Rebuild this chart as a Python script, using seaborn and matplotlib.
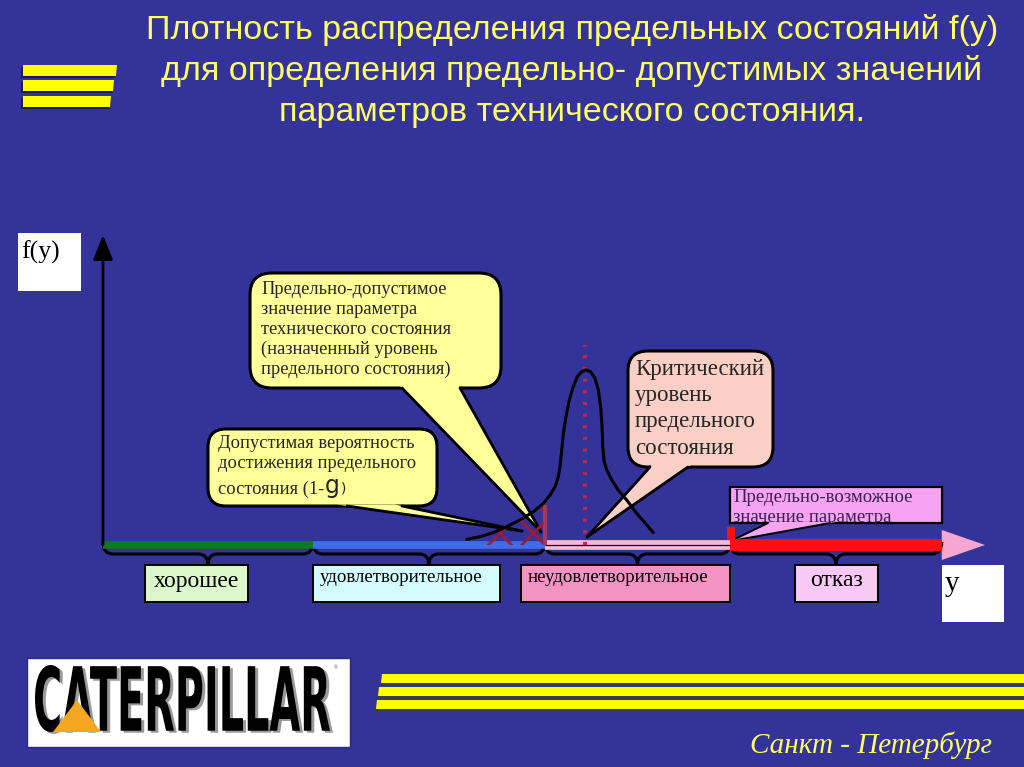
import numpy as np
import seaborn as sns
import matplotlib.pyplot as plt
import matplotlib.transforms as mtransforms
from matplotlib.patches import Polygon, Rectangle, FancyBboxPatch, PathPatch
from matplotlib.path import Path
from matplotlib.textpath import TextPath
from matplotlib.font_manager import FontProperties

# density of limit states f(y)
# (y in relative units 0..100 along the axis, f(y) in 0..1 of the axis height)
curve_x = [41.24, 42.74, 44.25, 45.77, 47.28, 48.79, 49.92, 50.68, 51.25, 51.62, 51.81,
           52.01, 52.19, 52.49, 52.87, 53.32, 53.78, 54.27, 54.76, 55.29, 55.78, 56.16,
           56.43, 56.58, 56.66, 56.80, 57.11, 57.68, 58.42, 59.38, 60.51, 61.64, 62.39]
curve_f = [0.018, 0.027, 0.040, 0.059, 0.081, 0.107, 0.134, 0.161, 0.188, 0.220, 0.253,
           0.306, 0.360, 0.414, 0.468, 0.511, 0.543, 0.559, 0.565, 0.559, 0.538, 0.500,
           0.446, 0.382, 0.317, 0.274, 0.242, 0.210, 0.177, 0.145, 0.102, 0.065, 0.040]

zone_names = ["хорошее", "удовлетворительное", "неудовлетворительное", "отказ"]
zone_edges = [0, 23.8, 50.1, 71.1, 95.1]
zone_colors = ["#0b7a22", "#3d6de8", "#f6b9da", "#ff1010"]
zone_widths = [5.5, 5.5, 7.0, 8.5]

limit_allowed = 50.1    # предельно-допустимое значение
limit_critical = 54.6   # критический уровень
limit_possible = 71.1   # предельно-возможное значение
critical_top = 0.645

title_lines = ["Плотность распределения предельных состояний f(y)",
               "для определения предельно- допустимых значений",
               "параметров технического состояния."]
note_allowed = ["Предельно-допустимое", "значение параметра", "технического состояния",
                "(назначенный уровень", "предельного состояния)"]
note_prob = ["Допустимая вероятность", "достижения предельного", "состояния (1-"]
note_critical = ["Критический", "уровень", "предельного", "состояния"]
note_possible = ["Предельно-возможное", "значение параметра"]

BG = "#333399"
YELLOW = "#ffff66"

sns.set_theme(style="white")
plt.rcParams['font.family'] = ['Liberation Serif', 'DejaVu Serif']
plt.rcParams['hatch.linewidth'] = 2.0

fig = plt.figure(figsize=(10.24, 7.67), dpi=100, facecolor=BG)

# pixel-space layer for the slide decoration
bg = fig.add_axes([0, 0, 1, 1], zorder=1)
bg.set_xlim(0, 1024)
bg.set_ylim(767, 0)
bg.axis('off')

# chart axes: origin at (103, 545) px, right end of the axis at 985 px, top at 235 px
ax = fig.add_axes([103 / 1024, (767 - 545) / 767, (985 - 103) / 1024, (545 - 235) / 767], zorder=2)
ax.set_xlim(0, 100)
ax.set_ylim(0, 1)
ax.axis('off')
mix = mtransforms.blended_transform_factory(ax.transData, bg.transData)

# ---- title and stripes
for i, line in enumerate(title_lines):
    bg.text(572, [30, 71, 113][i], line, ha='center', va='center', color=YELLOW,
            fontsize=24.5, family=['Liberation Sans Narrow', 'Liberation Sans', 'DejaVu Sans'])

for y0, y1, xr in [(65, 76, 117), (80, 91, 114), (96, 107, 111)]:
    bg.add_patch(Polygon([(21, y0 + 2), (xr - 1, y0 + 2), (xr - 2, y1 + 2), (21, y1 + 2)],
                         closed=True, fc="#1c1c55", lw=0))
    bg.add_patch(Polygon([(23, y0), (xr, y0), (xr - 1, y1), (23, y1)], closed=True, fc="#ffff00", lw=0))

for y0, y1, xl in [(674, 683, 381), (687, 696, 378), (700, 709, 376)]:
    bg.add_patch(Polygon([(xl, y1), (1024, y1), (1024, y1 + 3), (xl - 1, y1 + 3)],
                         closed=True, fc="#3c3c4c", lw=0))
    bg.add_patch(Polygon([(xl + 1, y0), (1024, y0), (1024, y1), (xl, y1)], closed=True, fc="#ffff00", lw=0))

# ---- CATERPILLAR logo
bg.add_patch(Rectangle((27, 658), 323, 89, fc="white", ec="#2a2a80", lw=1))
tp = TextPath((0, 0), "CATERPILLAR", size=10, prop=FontProperties(family='DejaVu Sans', weight='bold'))
ext = tp.get_extents()
tr = (mtransforms.Affine2D().translate(-ext.x0, -ext.y0)
      .scale(295 / ext.width, -67 / ext.height).translate(35, 732))
bg.add_patch(PathPatch(tr.transform_path(tp), fc="#9a9a9a", lw=0,
                       transform=mtransforms.Affine2D().translate(3, 2) + bg.transData))
bg.add_patch(PathPatch(tr.transform_path(tp), fc="black", lw=0))
bg.add_patch(Polygon([(53, 732), (101, 732), (77, 700)], closed=True, fc="#f5a623", lw=0))
bg.text(334, 668, "®", fontsize=4, color="#555555", ha='left', va='center')

bg.text(871, 745, "Санкт - Петербург", ha='center', va='center', color=YELLOW,
        fontsize=21, style='italic', family=['Liberation Serif', 'DejaVu Serif'])

# ---- white label boxes for the axes
bg.add_patch(Rectangle((18, 233), 63, 58, fc="white", lw=0))
bg.text(21, 252, "f(y)", fontsize=18.5, color="black", va='center', ha='left')
bg.add_patch(Rectangle((942, 565), 62, 57, fc="white", lw=0))
bg.text(945, 584, "y", fontsize=21, color="black", va='center', ha='left')


def callout(box, base, tip, fc, r, z=3):
    x0, y0, x1, y1 = box
    if r > 0:
        bg.add_patch(FancyBboxPatch((x0, y0), x1 - x0, y1 - y0,
                                    boxstyle=f"round,pad=0,rounding_size={r}",
                                    fc=fc, ec="black", lw=2.2, zorder=z))
    else:
        bg.add_patch(Rectangle((x0, y0), x1 - x0, y1 - y0, fc=fc, ec="black", lw=1.6, zorder=z))
    tip = np.array(tip, float)
    pts = []
    for bx in base:
        b = np.array([bx, y1], float)
        pts.append(b + (b - tip) * 0.06)
        bg.plot([bx, tip[0]], [y1, tip[1]], color="black", lw=2.0 if r > 0 else 1.4,
                zorder=z + 0.2, solid_capstyle='round')
    bg.add_patch(Polygon([pts[0], tip, pts[1]], closed=True, fc=fc, lw=0, zorder=z + 0.1))


# ---- zone label boxes
label_boxes = [(145, 248, "#dcf7c9", 17, 'center'), (313, 500, "#d4fbfd", 13.6, 'left'),
               (521, 730, "#f293c3", 13.6, 'left'), (795, 878, "#f9c9f5", 17, 'center')]
for name, (x0, x1, fc, fs, ha) in zip(zone_names, label_boxes):
    bg.add_patch(Rectangle((x0, 565), x1 - x0, 37, fc=fc, ec="black", lw=1.4))
    tx = (x0 + x1) / 2 if ha == 'center' else x0 + 7
    bg.text(tx, 581 if ha == 'center' else 577, name, ha=ha, va='center', fontsize=fs, color="black")

# ---- callouts
callout((250, 273, 501, 388), (402, 460), (541, 532), "#ffff99", 22)
for i, line in enumerate(note_allowed):
    bg.text(261, 289 + 20 * i, line, fontsize=13.3, va='center', ha='left', zorder=4)

callout((208, 429, 437, 506), (347, 402), (522, 531), "#ffff99", 18)
for i, line in enumerate(note_prob):
    t = bg.text(218, [443, 464, 489][i], line, fontsize=13.3, va='center', ha='left', zorder=4)
renderer = fig.canvas.get_renderer()
bb = t.get_window_extent(renderer).transformed(bg.transData.inverted())
gx = max(bb.x0, bb.x1)
bg.text(gx + 1, 486, "g", fontsize=17, va='center', ha='left', zorder=4, family='DejaVu Sans')
bg.text(gx + 17, 489, ")", fontsize=10, va='center', ha='left', zorder=4, family='DejaVu Sans')

callout((628, 351, 773, 467), (650, 688), (587, 537), "#f9cfc6", 20)
for i, line in enumerate(note_critical):
    bg.text(635, 370 + 26 * i, line, fontsize=16.5, va='center', ha='left', zorder=4)

callout((730, 487, 942, 523), (768, 830), (731, 541), "#f5a3f2", 0)
for i, line in enumerate(note_possible):
    bg.text(733, 498 + 20 * i, line, fontsize=13.5, va='center', ha='left', zorder=4, color="#3a1f55")

# ---- the chart itself
for x0, x1, c, w in zip(zone_edges[:-1], zone_edges[1:], zone_colors, zone_widths):
    ax.hlines(0, x0, x1, colors=c, lw=w, clip_on=False, zorder=2)
ax.hlines(0, zone_edges[2], zone_edges[3], colors="black", lw=0.9, clip_on=False, zorder=2.1)

# pink arrow head of the y axis
ax.add_patch(Polygon([(zone_edges[-1], 530), (100, 545), (zone_edges[-1], 560)], closed=True,
                     transform=mix, fc="#f6a6d0", lw=0, clip_on=False))
# vertical f(y) axis
ax.annotate("", xy=(0, 1), xytext=(0, 0),
            arrowprops=dict(arrowstyle="-|>,head_length=0.75,head_width=0.3", color="black",
                            lw=2, mutation_scale=20, shrinkA=0, shrinkB=0),
            annotation_clip=False)

# limit markers
ax.add_patch(Rectangle((limit_possible - 0.3, 527), 0.8, 18, transform=mix, fc="#ff1010",
                       lw=0, clip_on=False))
ax.vlines(limit_allowed, 0, 0.13, colors="#a33a5e", lw=3, zorder=3)
ax.vlines(limit_critical, 0, critical_top, colors="#d0204a", lw=2.8,
          linestyles=(0, (0.8, 2.2)), zorder=3)

# hatched tail (1 - gamma) and the density curve
tail = [i for i, v in enumerate(curve_x) if 42.5 <= v <= limit_allowed]
ax.fill_between([curve_x[i] for i in tail], 0, [curve_f[i] for i in tail],
                facecolor="none", edgecolor="#9b1b3c", hatch="x", lw=0, zorder=3)
sns.lineplot(x=curve_x, y=curve_f, ax=ax, color="black", lw=2.2, sort=False, zorder=4)

# braces under the zones
for x0, x1 in zip(zone_edges[:-1], zone_edges[1:]):
    xm = (x0 + x1) / 2
    r = 1.1
    y0, y1, y2 = 542, 554, 565
    verts = [(x0, y0), (x0, y1), (x0 + r, y1), (xm - r, y1), (xm, y1), (xm, y2),
             (xm, y1), (xm + r, y1), (x1 - r, y1), (x1, y1), (x1, y0)]
    codes = [Path.MOVETO, Path.CURVE3, Path.CURVE3, Path.LINETO, Path.CURVE3, Path.CURVE3,
             Path.CURVE3, Path.CURVE3, Path.LINETO, Path.CURVE3, Path.CURVE3]
    ax.add_patch(PathPatch(Path(verts, codes), transform=mix, fc="none", ec="black",
                           lw=2.2, clip_on=False, zorder=1.5))

fig.savefig("out.png", dpi=100, facecolor=BG)
